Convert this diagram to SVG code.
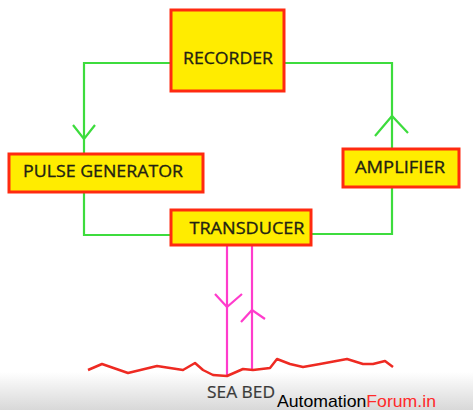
<svg xmlns="http://www.w3.org/2000/svg" width="473" height="410" viewBox="0 0 473 410">
<defs>
<linearGradient id="bg" x1="0" y1="0" x2="0" y2="1">
<stop offset="0" stop-color="#ffffff"/>
<stop offset="1" stop-color="#d8d8d8"/>
</linearGradient>
<style>
.box{fill:#ffec00;stroke:#ff2a10;stroke-width:3}
.lbl{font-family:"Open Sans","Liberation Sans",sans-serif;font-size:15.5px;fill:#222214;stroke:#222214;stroke-width:0.3}
.g{fill:none;stroke:#3ddc3d;stroke-width:2.2}
.p{fill:none;stroke:#ff3ccc;stroke-width:2.2}
</style>
</defs>
<rect x="0" y="0" width="473" height="410" fill="#ffffff"/>
<rect x="0" y="372" width="473" height="38" fill="url(#bg)"/>
<g id="connectors">
<path class="g" d="M171,63 H84 V154"/>
<path class="g" d="M73,125 L84,139 L95,125"/>
<path class="g" d="M284,63 H392 V149"/>
<path class="g" d="M375,136 L392,116 L408,133"/>
<path class="g" d="M392,187 V234 H311"/>
<path class="g" d="M84,192 V235 H171"/>
<path class="p" d="M227,245 V376"/>
<path class="p" d="M215,294 L227,307 L242,294"/>
<path class="p" d="M252,245 V371"/>
<path class="p" d="M241,322 L252,310 L265,319"/>
</g>
<g id="recorder">
<rect class="box" x="171" y="10" width="113" height="81"/>
<text class="lbl" x="228" y="64" text-anchor="middle" textLength="90" lengthAdjust="spacingAndGlyphs">RECORDER</text>
</g>
<g id="pulse-generator">
<rect class="box" x="9" y="154" width="194" height="38"/>
<text class="lbl" x="103" y="177" text-anchor="middle" textLength="160" lengthAdjust="spacingAndGlyphs">PULSE GENERATOR</text>
</g>
<g id="amplifier">
<rect class="box" x="343" y="149" width="116" height="38"/>
<text class="lbl" x="400" y="173" text-anchor="middle" textLength="90" lengthAdjust="spacingAndGlyphs">AMPLIFIER</text>
</g>
<g id="transducer">
<rect class="box" x="171" y="210" width="140" height="35"/>
<text class="lbl" x="247" y="234" text-anchor="middle" textLength="115" lengthAdjust="spacingAndGlyphs">TRANSDUCER</text>
</g>
<g id="sea-bed">
<path fill="none" stroke="#ee2a22" stroke-width="2.5" stroke-linejoin="round" d="M88,370 L102,364 L128,373 L157,366 L183,370 L195,363 L203,370 L213,375 L227,376 L243,369 L253,370 L270,368 L277,359 L290,364 L303,367 L320,364 L347,359 L363,364 L373,364 L385,361 L393,367"/>
<text x="207" y="398" font-family="'Open Sans','Liberation Sans',sans-serif" font-size="16" fill="#3a3a3a" stroke="#3a3a3a" stroke-width="0.2" textLength="68" lengthAdjust="spacingAndGlyphs">SEA BED</text>
</g>
<text x="277" y="407" font-family="'Liberation Sans',Arial,sans-serif" font-size="17" textLength="159" lengthAdjust="spacingAndGlyphs"><tspan fill="#000000">Automation</tspan><tspan fill="#ff2a2a">Forum.in</tspan></text>
</svg>
